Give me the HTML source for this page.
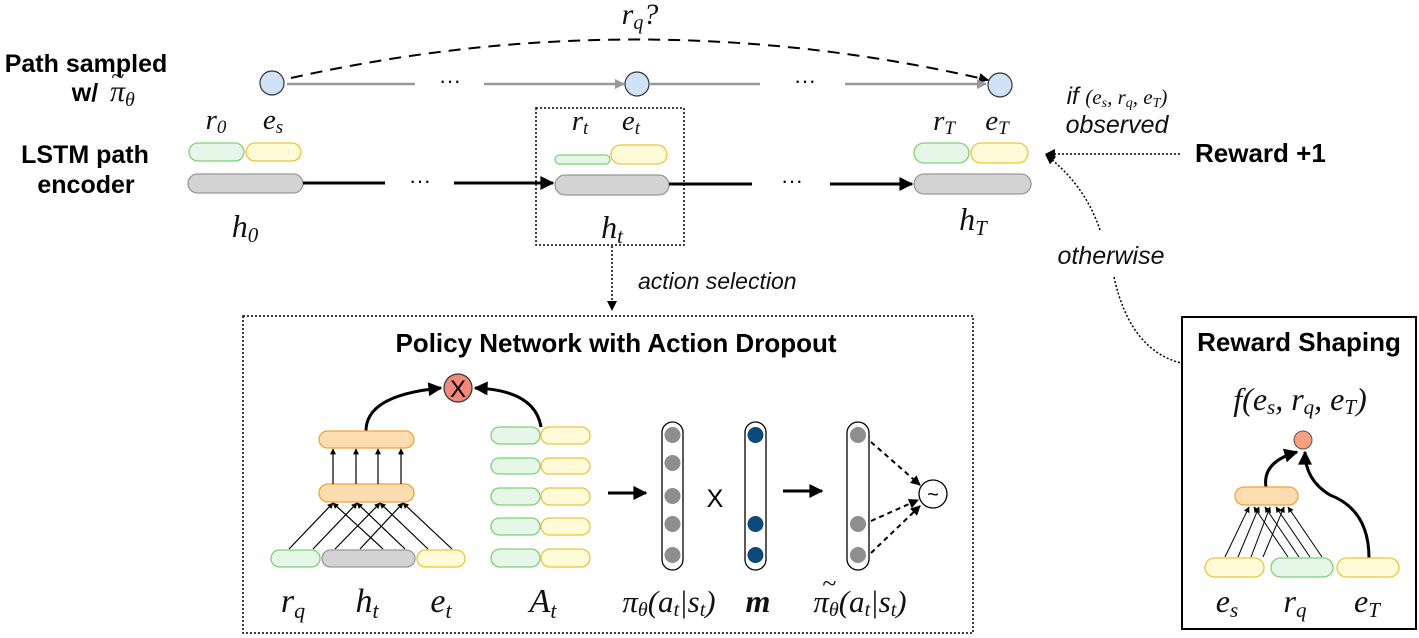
<!DOCTYPE html>
<html><head><meta charset="utf-8"><style>
html,body{margin:0;padding:0;background:#fff;width:1419px;height:638px;overflow:hidden}
svg{display:block}
.b{font-family:"Liberation Sans",sans-serif;font-weight:bold;fill:#000}
.i{font-family:"Liberation Serif",serif;font-style:italic;fill:#111}
.si{font-family:"Liberation Sans",sans-serif;font-style:italic;fill:#111}
</style></head><body>
<svg width="1419" height="638" viewBox="0 0 1419 638" xmlns="http://www.w3.org/2000/svg">
<defs>
<marker id="ah" viewBox="0 0 10 10" refX="9" refY="5" markerWidth="6" markerHeight="6" orient="auto-start-reverse" markerUnits="userSpaceOnUse"><path d="M0,0 L10,5 L0,10 z" fill="#000"/></marker>
<marker id="ahb" viewBox="0 0 10 10" refX="9" refY="5" markerWidth="16" markerHeight="14" orient="auto" markerUnits="userSpaceOnUse"><path d="M0,0 L10,5 L0,10 z" fill="#000"/></marker>
<marker id="ahm" viewBox="0 0 10 10" refX="9" refY="5" markerWidth="10" markerHeight="10" orient="auto" markerUnits="userSpaceOnUse"><path d="M0,0 L10,5 L0,10 z" fill="#000"/></marker>
<marker id="ahg" viewBox="0 0 10 10" refX="9" refY="5" markerWidth="12" markerHeight="10" orient="auto" markerUnits="userSpaceOnUse"><path d="M0,0 L10,5 L0,10 z" fill="#999"/></marker>
</defs>

<!-- left labels -->
<text class="b" x="86" y="72" font-size="25" text-anchor="middle">Path sampled</text>
<text class="b" x="85" y="101" font-size="25" text-anchor="middle">w/</text>
<text class="i" x="110" y="101" font-size="30">π<tspan font-size="20" dy="5">θ</tspan></text>
<text class="i" x="111" y="84" font-size="24">~</text>
<text class="b" x="85" y="163" font-size="25" text-anchor="middle">LSTM path</text>
<text class="b" x="86" y="193" font-size="25" text-anchor="middle">encoder</text>

<!-- dashed arc -->
<path d="M291,78 Q640,0 988,80" fill="none" stroke="#000" stroke-width="2" stroke-dasharray="12,8" marker-end="url(#ahm)"/>
<text class="i" x="640" y="24" font-size="30" text-anchor="middle">r<tspan font-size="20" dy="5">q</tspan><tspan dy="-5">?</tspan></text>

<!-- gray path -->
<line x1="287" y1="84" x2="415" y2="84" stroke="#999" stroke-width="2.5"/>
<text x="450" y="88" font-size="22" text-anchor="middle" font-family="Liberation Sans">···</text>
<line x1="484" y1="84" x2="624" y2="84" stroke="#999" stroke-width="2.5" marker-end="url(#ahg)"/>
<line x1="650" y1="84" x2="760" y2="84" stroke="#999" stroke-width="2.5"/>
<text x="805" y="88" font-size="22" text-anchor="middle" font-family="Liberation Sans">···</text>
<line x1="845" y1="84" x2="986" y2="84" stroke="#999" stroke-width="2.5" marker-end="url(#ahg)"/>
<circle cx="272" cy="83" r="12" fill="#cfe2f8" stroke="#333" stroke-width="1.2"/>
<circle cx="637" cy="84" r="12" fill="#cfe2f8" stroke="#333" stroke-width="1.2"/>
<circle cx="1000" cy="85" r="12" fill="#cfe2f8" stroke="#333" stroke-width="1.2"/>

<!-- h0 -->
<text class="i" x="216" y="129" font-size="29" text-anchor="middle">r<tspan font-size="19" dy="4">0</tspan></text>
<text class="i" x="273" y="129" font-size="29" text-anchor="middle">e<tspan font-size="19" dy="4">s</tspan></text>
<rect x="189" y="143" width="55" height="18" rx="9" fill="#e6f7ea" stroke="#7ed36f" stroke-width="1.3"/>
<rect x="246" y="143" width="55" height="18" rx="9" fill="#fffbd9" stroke="#eec43a" stroke-width="1.3"/>
<rect x="188" y="174" width="115" height="19" rx="9.5" fill="#d3d3d3" stroke="#999" stroke-width="1.3"/>
<text class="i" x="245" y="237" font-size="32" text-anchor="middle">h<tspan font-size="21" dy="5">0</tspan></text>
<line x1="303" y1="183" x2="385" y2="183" stroke="#000" stroke-width="3"/>
<text x="420" y="188" font-size="22" text-anchor="middle" font-family="Liberation Sans">···</text>
<line x1="454" y1="183" x2="553" y2="183" stroke="#000" stroke-width="3" marker-end="url(#ahb)"/>

<!-- ht -->
<rect x="536" y="108" width="148" height="137" fill="none" stroke="#000" stroke-width="1.5" stroke-dasharray="2,2"/>
<text class="i" x="580" y="130" font-size="29" text-anchor="middle">r<tspan font-size="19" dy="4">t</tspan></text>
<text class="i" x="631" y="130" font-size="29" text-anchor="middle">e<tspan font-size="19" dy="4">t</tspan></text>
<rect x="555" y="155" width="55" height="9" rx="4.5" fill="#e6f7ea" stroke="#7ed36f" stroke-width="1.3"/>
<rect x="611" y="145" width="56" height="19" rx="9.5" fill="#fffbd9" stroke="#eec43a" stroke-width="1.3"/>
<rect x="555" y="175" width="114" height="20" rx="10" fill="#d3d3d3" stroke="#999" stroke-width="1.3"/>
<text class="i" x="612" y="238" font-size="32" text-anchor="middle">h<tspan font-size="21" dy="5">t</tspan></text>
<line x1="669" y1="184" x2="752" y2="184" stroke="#000" stroke-width="3"/>
<text x="792" y="188" font-size="22" text-anchor="middle" font-family="Liberation Sans">···</text>
<line x1="830" y1="184" x2="912" y2="184" stroke="#000" stroke-width="3" marker-end="url(#ahb)"/>

<!-- hT -->
<text class="i" x="944" y="130" font-size="29" text-anchor="middle">r<tspan font-size="19" dy="4">T</tspan></text>
<text class="i" x="997" y="130" font-size="29" text-anchor="middle">e<tspan font-size="19" dy="4">T</tspan></text>
<rect x="914" y="143" width="55" height="20" rx="10" fill="#e6f7ea" stroke="#7ed36f" stroke-width="1.3"/>
<rect x="971" y="143" width="57" height="20" rx="10" fill="#fffbd9" stroke="#eec43a" stroke-width="1.3"/>
<rect x="914" y="174" width="117" height="20" rx="10" fill="#d3d3d3" stroke="#999" stroke-width="1.3"/>
<text class="i" x="973" y="230" font-size="32" text-anchor="middle">h<tspan font-size="21" dy="5">T</tspan></text>

<!-- reward +1 -->
<text class="si" x="1117" y="104" font-size="24" text-anchor="middle">if <tspan class="i" font-size="21">(e<tspan font-size="14" dy="3">s</tspan><tspan dy="-3">, r</tspan><tspan font-size="14" dy="3">q</tspan><tspan dy="-3">, e</tspan><tspan font-size="14" dy="3">T</tspan><tspan dy="-3">)</tspan></tspan></text>
<text class="si" x="1117" y="133" font-size="25" text-anchor="middle">observed</text>
<text class="b" x="1195" y="162" font-size="26">Reward +1</text>
<line x1="1180" y1="154" x2="1046" y2="154" stroke="#000" stroke-width="1.5" stroke-dasharray="2,2" marker-end="url(#ahm)"/>
<text class="si" x="1111" y="264" font-size="25" text-anchor="middle">otherwise</text>
<path d="M1100,230 Q1085,185 1046,155" fill="none" stroke="#000" stroke-width="1.5" stroke-dasharray="2,2" marker-end="url(#ahm)"/>
<path d="M1114,277 Q1130,350 1181,363" fill="none" stroke="#000" stroke-width="1.5" stroke-dasharray="2,2"/>

<!-- action selection -->
<line x1="612" y1="246" x2="612" y2="310" stroke="#000" stroke-width="1.5" stroke-dasharray="2,2" marker-end="url(#ahm)"/>
<text class="si" x="638" y="289" font-size="23">action selection</text>

<!-- policy box -->
<rect x="243" y="316" width="730" height="317" fill="none" stroke="#000" stroke-width="1.5" stroke-dasharray="2,2"/>
<text class="b" x="616" y="352" font-size="26" text-anchor="middle">Policy Network with Action Dropout</text>

<path d="M366,431 Q366,395 441,388" fill="none" stroke="#000" stroke-width="3" marker-end="url(#ahb)"/>
<path d="M541,427 Q535,390 475,388" fill="none" stroke="#000" stroke-width="3" marker-end="url(#ahb)"/>
<circle cx="458" cy="388" r="14" fill="#f2877c" stroke="#333" stroke-width="1.2"/>
<text x="458" y="397" font-size="24" text-anchor="middle" font-family="Liberation Sans">X</text>

<rect x="319" y="431" width="95" height="17" rx="8.5" fill="#fddcb0" stroke="#eaa63a" stroke-width="1.3"/>
<rect x="319" y="484" width="95" height="18" rx="9" fill="#fddcb0" stroke="#eaa63a" stroke-width="1.3"/>
<g stroke="#000" stroke-width="1.2" marker-end="url(#ah)">
<line x1="333" y1="484" x2="333" y2="449"/><line x1="356" y1="484" x2="356" y2="449"/>
<line x1="378" y1="484" x2="378" y2="449"/><line x1="401" y1="484" x2="401" y2="449"/>
<line x1="289" y1="549" x2="333" y2="503"/><line x1="313" y1="549" x2="357" y2="503"/>
<line x1="335" y1="549" x2="380" y2="503"/><line x1="360" y1="549" x2="403" y2="503"/>
<line x1="383" y1="549" x2="333" y2="503"/><line x1="405" y1="549" x2="357" y2="503"/>
<line x1="428" y1="549" x2="380" y2="503"/><line x1="452" y1="549" x2="403" y2="503"/>
</g>
<rect x="271" y="550" width="49" height="17" rx="8.5" fill="#e6f7ea" stroke="#7ed36f" stroke-width="1.3"/>
<rect x="322" y="550" width="93" height="17" rx="8.5" fill="#d3d3d3" stroke="#999" stroke-width="1.3"/>
<rect x="417" y="550" width="48" height="17" rx="8.5" fill="#fffbd9" stroke="#eec43a" stroke-width="1.3"/>

<g stroke-width="1.3">
<rect x="491" y="427" width="49" height="17" rx="8.5" fill="#e6f7ea" stroke="#7ed36f"/><rect x="541" y="427" width="49" height="17" rx="8.5" fill="#fffbd9" stroke="#eec43a"/>
<rect x="491" y="458" width="49" height="16" rx="8" fill="#e6f7ea" stroke="#7ed36f"/><rect x="541" y="458" width="49" height="16" rx="8" fill="#fffbd9" stroke="#eec43a"/>
<rect x="491" y="488" width="49" height="17" rx="8.5" fill="#e6f7ea" stroke="#7ed36f"/><rect x="541" y="488" width="49" height="17" rx="8.5" fill="#fffbd9" stroke="#eec43a"/>
<rect x="491" y="518" width="49" height="17" rx="8.5" fill="#e6f7ea" stroke="#7ed36f"/><rect x="541" y="518" width="49" height="17" rx="8.5" fill="#fffbd9" stroke="#eec43a"/>
<rect x="491" y="549" width="49" height="18" rx="9" fill="#e6f7ea" stroke="#7ed36f"/><rect x="541" y="549" width="49" height="18" rx="9" fill="#fffbd9" stroke="#eec43a"/>
</g>

<line x1="608" y1="493" x2="646" y2="493" stroke="#000" stroke-width="3" marker-end="url(#ahb)"/>
<rect x="662" y="422" width="21" height="148" rx="10.5" fill="#fff" stroke="#000" stroke-width="1.3"/>
<g fill="#8e8e8e"><circle cx="672.5" cy="435" r="8"/><circle cx="672.5" cy="463" r="8"/><circle cx="672.5" cy="496" r="8"/><circle cx="672.5" cy="524" r="8"/><circle cx="672.5" cy="555" r="8"/></g>
<text x="715" y="507" font-size="25" text-anchor="middle" font-family="Liberation Sans">X</text>
<rect x="745" y="422" width="21" height="148" rx="10.5" fill="#fff" stroke="#000" stroke-width="1.3"/>
<g fill="#0d4a7a"><circle cx="755.5" cy="435" r="8"/><circle cx="755.5" cy="524" r="8"/><circle cx="755.5" cy="555" r="8"/></g>
<line x1="783" y1="491" x2="822" y2="491" stroke="#000" stroke-width="3" marker-end="url(#ahb)"/>
<rect x="847" y="422" width="22" height="148" rx="11" fill="#fff" stroke="#000" stroke-width="1.3"/>
<g fill="#8e8e8e"><circle cx="858" cy="435" r="8"/><circle cx="858" cy="524" r="8"/><circle cx="858" cy="555" r="8"/></g>
<g stroke="#000" stroke-width="2" stroke-dasharray="5,4" marker-end="url(#ahm)">
<line x1="871" y1="442" x2="920" y2="485"/><line x1="871" y1="521" x2="918" y2="500"/><line x1="871" y1="553" x2="920" y2="506"/>
</g>
<circle cx="933" cy="494" r="14" fill="#fff" stroke="#000" stroke-width="1.3"/>
<text x="933" y="501" font-size="20" text-anchor="middle" font-family="Liberation Sans">~</text>

<text class="i" x="293" y="612" font-size="34" text-anchor="middle">r<tspan font-size="22" dy="6">q</tspan></text>
<text class="i" x="367" y="612" font-size="34" text-anchor="middle">h<tspan font-size="22" dy="6">t</tspan></text>
<text class="i" x="441" y="612" font-size="34" text-anchor="middle">e<tspan font-size="22" dy="6">t</tspan></text>
<text class="i" x="543" y="612" font-size="34" text-anchor="middle">A<tspan font-size="22" dy="6">t</tspan></text>
<text class="i" x="669" y="612" font-size="31" text-anchor="middle">π<tspan font-size="20" dy="4">θ</tspan><tspan dy="-4">(a</tspan><tspan font-size="20" dy="4">t</tspan><tspan dy="-4">|s</tspan><tspan font-size="20" dy="4">t</tspan><tspan dy="-4">)</tspan></text>
<text class="i" x="758" y="612" font-size="32" font-weight="bold" text-anchor="middle">m</text>
<text class="i" x="860" y="612" font-size="31" text-anchor="middle">π<tspan font-size="20" dy="4">θ</tspan><tspan dy="-4">(a</tspan><tspan font-size="20" dy="4">t</tspan><tspan dy="-4">|s</tspan><tspan font-size="20" dy="4">t</tspan><tspan dy="-4">)</tspan></text>
<text class="i" x="822" y="592" font-size="26">~</text>

<!-- reward shaping -->
<rect x="1182" y="317" width="234" height="312" fill="none" stroke="#000" stroke-width="2"/>
<text class="b" x="1299" y="351" font-size="26" text-anchor="middle">Reward Shaping</text>
<text class="i" x="1300" y="410" font-size="32" text-anchor="middle">f(e<tspan font-size="21" dy="4">s</tspan><tspan dy="-4">, r</tspan><tspan font-size="21" dy="4">q</tspan><tspan dy="-4">, e</tspan><tspan font-size="21" dy="4">T</tspan><tspan dy="-4">)</tspan></text>
<path d="M1266,487 Q1262,462 1297,452" fill="none" stroke="#000" stroke-width="3" marker-end="url(#ahb)"/>
<path d="M1369,558 Q1369,510 1330,495 Q1305,480 1305,452" fill="none" stroke="#000" stroke-width="3" marker-end="url(#ahb)"/>
<circle cx="1303" cy="440" r="9" fill="#f7a07f" stroke="#555" stroke-width="1"/>
<rect x="1235" y="487" width="63" height="18" rx="9" fill="#fddcb0" stroke="#eaa63a" stroke-width="1.3"/>
<g stroke="#000" stroke-width="1" marker-end="url(#ah)">
<line x1="1225" y1="557" x2="1249" y2="507"/><line x1="1238" y1="557" x2="1259" y2="507"/>
<line x1="1251" y1="557" x2="1270" y2="507"/><line x1="1263" y1="557" x2="1284" y2="507"/>
<line x1="1288" y1="557" x2="1254" y2="507"/><line x1="1299" y1="557" x2="1265" y2="507"/>
<line x1="1310" y1="557" x2="1276" y2="507"/><line x1="1322" y1="557" x2="1288" y2="507"/>
</g>
<rect x="1205" y="558" width="59" height="19" rx="9.5" fill="#fffbd9" stroke="#eec43a" stroke-width="1.3"/>
<rect x="1271" y="558" width="62" height="19" rx="9.5" fill="#e6f7ea" stroke="#7ed36f" stroke-width="1.3"/>
<rect x="1337" y="558" width="62" height="19" rx="9.5" fill="#fffbd9" stroke="#eec43a" stroke-width="1.3"/>
<text class="i" x="1227" y="612" font-size="32" text-anchor="middle">e<tspan font-size="21" dy="5">s</tspan></text>
<text class="i" x="1295" y="612" font-size="32" text-anchor="middle">r<tspan font-size="21" dy="5">q</tspan></text>
<text class="i" x="1367" y="612" font-size="32" text-anchor="middle">e<tspan font-size="21" dy="5">T</tspan></text>
</svg>
</body></html>
